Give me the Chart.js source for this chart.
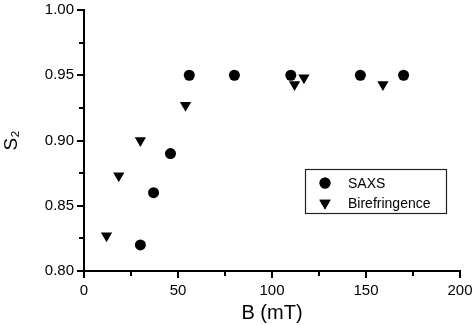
<!DOCTYPE html>
<html>
<head>
<meta charset="utf-8">
<script src="https://cdn.jsdelivr.net/npm/chart.js@4/dist/chart.umd.min.js"></script>
<style>
  html, body { margin: 0; padding: 0; background: #fff; }
  #wrap { width: 474px; height: 325px; }
</style>
</head>
<body>
<div id="wrap"><canvas id="chart"></canvas></div>
<script>
/** Data. */
const saxsB = [30, 37, 46, 56, 80, 110, 147, 170];
const saxsS2 = [0.82, 0.86, 0.89, 0.95, 0.95, 0.95, 0.95, 0.95];
const biroB = [12, 18.5, 30, 54, 112, 117, 159];
const biroS2 = [0.827, 0.873, 0.900, 0.927, 0.943, 0.948, 0.943];
const xTicks = [0, 50, 100, 150, 200];
const yTicks = [0.80, 0.85, 0.90, 0.95, 1.00];

const FONT = "'Liberation Sans', Arial, sans-serif";

const isMajor = (list, v) => list.some((t) => Math.abs(t - v) < 1e-6);

/** Legend box and outward tick marks, drawn after the chart. */
const extras = {
  id: 'extras',
  afterDraw(chart) {
    const ctx = chart.ctx;
    const area = chart.chartArea;
    const xs = chart.scales.x;
    const ys = chart.scales.y;
    ctx.save();

    // tick marks, major longer than minor
    ctx.fillStyle = '#000';
    xs.ticks.forEach((t) => {
      const px = Math.round(xs.getPixelForValue(t.value));
      const len = isMajor(xTicks, t.value) ? 7 : 5;
      ctx.fillRect(px - 1, area.bottom, 2, len);
    });
    ys.ticks.forEach((t) => {
      const py = Math.round(ys.getPixelForValue(t.value));
      const len = isMajor(yTicks, t.value) ? 7 : 5;
      ctx.fillRect(area.left - len, py - 1, len, 2);
    });

    // legend box
    const x = 305, y = 169, w = 141, h = 44;
    ctx.strokeStyle = '#222';
    ctx.lineWidth = 1.2;
    ctx.strokeRect(x + 0.5, y + 0.5, w, h);
    chart.data.datasets.forEach((ds, i) => {
      const cy = y + 14 + i * 20;
      Chart.helpers.drawPoint(ctx, {
        pointStyle: ds.pointStyle,
        rotation: ds.rotation || 0,
        radius: ds.pointRadius,
        borderWidth: 0,
      }, x + 20, cy);
      ctx.fillStyle = '#000';
      ctx.fill();
      ctx.font = '14px ' + FONT;
      ctx.textBaseline = 'middle';
      ctx.fillText(ds.label, x + 43, cy + 1);
    });
    ctx.restore();
  },
};

const config = {
  type: 'scatter',
  data: {
    datasets: [
      {
        label: 'SAXS',
        data: saxsB.map((b, i) => ({ x: b, y: saxsS2[i] })),
        pointStyle: 'circle',
        pointRadius: 5.5,
        backgroundColor: '#000',
        borderColor: '#000',
        borderWidth: 0,
      },
      {
        label: 'Birefringence',
        data: biroB.map((b, i) => ({ x: b, y: biroS2[i] })),
        pointStyle: 'triangle',
        rotation: 180,
        pointRadius: 6.5,
        backgroundColor: '#000',
        borderColor: '#000',
        borderWidth: 0,
      },
    ],
  },
  options: {
    responsive: false,
    animation: false,
    layout: { padding: { top: 10, right: 14, left: 0, bottom: 0 } },
    plugins: {
      legend: { display: false },
      tooltip: { enabled: false },
    },
    scales: {
      x: {
        type: 'linear',
        min: 0,
        max: 200,
        border: { display: true, color: '#000', width: 2 },
        grid: { display: false, drawTicks: true, tickLength: 6 },
        ticks: {
          stepSize: 25,
          autoSkip: false,
          maxRotation: 0,
          color: '#000',
          padding: 5,
          font: { family: FONT, size: 15 },
          callback: (v) => (isMajor(xTicks, v) ? String(v) : ''),
        },
        title: {
          display: true,
          text: 'B (mT)',
          color: '#000',
          font: { family: FONT, size: 20 },
          padding: { top: 1, bottom: 0 },
        },
        afterFit(scale) {
          scale.height = 54;
          scale.paddingLeft = 0;
          scale.paddingRight = 0;
        },
      },
      y: {
        type: 'linear',
        min: 0.8,
        max: 1.0,
        border: { display: true, color: '#000', width: 2 },
        grid: { display: false, drawTicks: true, tickLength: 6 },
        ticks: {
          stepSize: 0.025,
          autoSkip: false,
          color: '#000',
          padding: 4,
          font: { family: FONT, size: 15 },
          callback: (v) => {
            const hit = yTicks.find((t) => Math.abs(t - v) < 1e-6);
            return hit !== undefined ? hit.toFixed(2) : '';
          },
        },
        title: {
          display: true,
          text: 'S\u2082',
          color: '#000',
          font: { family: FONT, size: 19 },
          padding: { top: 0, bottom: 10 },
        },
        afterFit(scale) {
          scale.width = 84;
          scale.paddingTop = 0;
          scale.paddingBottom = 0;
        },
      },
    },
  },
  plugins: [extras],
};

const canvas = document.getElementById('chart');
canvas.width = 474;
canvas.height = 325;
new Chart(canvas.getContext('2d'), config);
</script>
</body>
</html>
